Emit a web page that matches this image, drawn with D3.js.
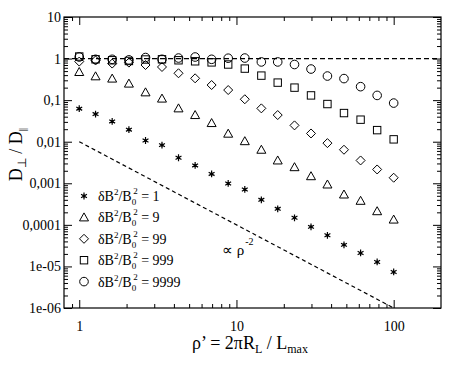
<!DOCTYPE html>
<html>
<head>
<meta charset="utf-8">
<script src="https://cdn.jsdelivr.net/npm/d3@7"></script>
<style>
  body { margin: 0; background: #fff; }
  svg { display: block; font-family: "Liberation Serif", "Times New Roman", serif; }
</style>
</head>
<body>
<div id="chart"></div>
<script>
// rho' values (same for every run)
const rho = [1, 1.27, 1.62, 2.07, 2.64, 3.36, 4.28, 5.46, 6.95, 8.86,
             11.3, 14.4, 18.3, 23.4, 29.8, 37.9, 48.3, 61.6, 78.5, 100];

// D_perp / D_par for each dB^2/B0^2
const run1 = [0.0624, 0.0462, 0.0308, 0.0195, 0.0107, 0.00828, 0.00411, 0.00269, 0.00168, 0.00099,
              0.00071, 0.0004, 0.000243, 0.000148, 0.0000895, 0.0000561, 0.000033, 0.0000211, 0.0000128, 0.00000736];
const run9 = [0.475, 0.374, 0.33, 0.25, 0.154, 0.109, 0.0634, 0.0438, 0.0281, 0.0156,
              0.0103, 0.00641, 0.00354, 0.00244, 0.00148, 0.000935, 0.000537, 0.000379, 0.000213, 0.000134];
const run99 = [0.847, 0.9, 0.758, 0.8, 0.7, 0.628, 0.443, 0.335, 0.231, 0.175,
               0.105, 0.0634, 0.0438, 0.0247, 0.0158, 0.00925, 0.00641, 0.00354, 0.00215, 0.00136];
const run999 = [1.12, 0.96, 0.91, 0.875, 0.95, 0.96, 0.91, 0.86, 0.81, 0.72,
                0.574, 0.389, 0.264, 0.2, 0.13, 0.0806, 0.0489, 0.0339, 0.019, 0.0114];
const run9999 = [1.09, 0.96, 0.96, 0.93, 1.06, 0.96, 1.03, 1.09, 0.96, 1.02,
                 1.03, 0.83, 0.83, 0.72, 0.56, 0.38, 0.33, 0.211, 0.13, 0.085];

const legendValues = ["1", "9", "99", "999", "9999"];
const xTicks = [1, 10, 100];
const yTicks = [1e-6, 1e-5, 1e-4, 1e-3, 1e-2, 1e-1, 1, 10];
const yTickLabels = ["1e-06", "1e-05", "0,0001", "0,001", "0,01", "0,1", "1", "10"];

// reference slope line  ~ rho^-2
const slopeX = [1, 100];
const slopeY = [0.01, 0.000001];

const width = 474;
const height = 366;
const margin = { top: 17, right: 33, bottom: 58, left: 64 };

const svg = d3.select('#chart')
  .append('svg')
  .attr('width', width)
  .attr('height', height);

const xScale = d3.scaleLog()
  .domain([0.8, 200])
  .range([margin.left, width - margin.right]);

const yScale = d3.scaleLog()
  .domain([1e-6, 10])
  .range([height - margin.bottom, margin.top]);

// minor ticks
const xMinor = [];
[0.1, 1, 10, 100].forEach(d => {
  for (let k = 2; k <= 9; k++) {
    const v = d * k;
    if (v > 0.8 && v < 200 && !xTicks.includes(v)) xMinor.push(v);
  }
});
const yMinor = [];
[1e-6, 1e-5, 1e-4, 1e-3, 1e-2, 1e-1, 1].forEach(d => {
  for (let k = 2; k <= 9; k++) yMinor.push(d * k);
});

const L = margin.left, R = width - margin.right;
const T = margin.top, B = height - margin.bottom;

function styleAxis(g) {
  g.select('.domain').remove();
  g.selectAll('line').attr('stroke', '#000').attr('stroke-width', 1);
}

// bottom
svg.append('g').attr('transform', `translate(0,${B})`)
  .call(d3.axisBottom(xScale).tickValues(xTicks).tickSize(-8).tickPadding(13).tickFormat(d3.format('d')))
  .call(styleAxis)
  .call(g => g.selectAll('text').attr('font-size', 14).attr('font-family', 'Liberation Serif').attr('fill', '#000'));
svg.append('g').attr('transform', `translate(0,${B})`)
  .call(d3.axisBottom(xScale).tickValues(xMinor).tickSize(-4).tickFormat(''))
  .call(styleAxis);
// top
svg.append('g').attr('transform', `translate(0,${T})`)
  .call(d3.axisTop(xScale).tickValues(xTicks).tickSize(-8).tickFormat(''))
  .call(styleAxis);
svg.append('g').attr('transform', `translate(0,${T})`)
  .call(d3.axisTop(xScale).tickValues(xMinor).tickSize(-4).tickFormat(''))
  .call(styleAxis);
// left
svg.append('g').attr('transform', `translate(${L},0)`)
  .call(d3.axisLeft(yScale).tickValues(yTicks).tickSize(-8).tickPadding(3)
    .tickFormat((d, i) => yTickLabels[i]))
  .call(styleAxis)
  .call(g => g.selectAll('text').attr('font-size', 14).attr('font-family', 'Liberation Serif').attr('fill', '#000'));
svg.append('g').attr('transform', `translate(${L},0)`)
  .call(d3.axisLeft(yScale).tickValues(yMinor).tickSize(-4).tickFormat(''))
  .call(styleAxis);
// right
svg.append('g').attr('transform', `translate(${R},0)`)
  .call(d3.axisRight(yScale).tickValues(yTicks).tickSize(-8).tickFormat(''))
  .call(styleAxis);
svg.append('g').attr('transform', `translate(${R},0)`)
  .call(d3.axisRight(yScale).tickValues(yMinor).tickSize(-4).tickFormat(''))
  .call(styleAxis);

// frame
svg.append('rect')
  .attr('x', L).attr('y', T)
  .attr('width', R - L).attr('height', B - T)
  .attr('fill', 'none').attr('stroke', '#000').attr('stroke-width', 1.2);

// dashed line at 1
svg.append('line')
  .attr('x1', L).attr('x2', R)
  .attr('y1', yScale(1)).attr('y2', yScale(1))
  .attr('stroke', '#000').attr('stroke-width', 1.2)
  .attr('stroke-dasharray', '5,3');

// slope line
svg.append('line')
  .attr('x1', xScale(slopeX[0])).attr('y1', yScale(slopeY[0]))
  .attr('x2', xScale(slopeX[1])).attr('y2', yScale(slopeY[1]))
  .attr('stroke', '#000').attr('stroke-width', 1.2)
  .attr('stroke-dasharray', '4,3');

// markers
const shapes = [
  { data: run1, type: 'star' },
  { data: run9, type: 'triangle' },
  { data: run99, type: 'diamond' },
  { data: run999, type: 'square' },
  { data: run9999, type: 'circle' }
];

function drawMarker(g, type) {
  if (type === 'star') {
    g.append('path')
      .attr('d', d3.symbol(d3.symbolAsterisk, 32)())
      .attr('stroke', '#000').attr('stroke-width', 1.2).attr('fill', 'none');
    g.append('circle').attr('r', 1.5).attr('fill', '#000');
  } else if (type === 'triangle') {
    g.append('path').attr('d', 'M0,-4.5L4.5,3.5L-4.5,3.5Z')
      .attr('fill', 'none').attr('stroke', '#000').attr('stroke-width', 1);
  } else if (type === 'diamond') {
    g.append('path').attr('d', 'M0,-4.5L4.5,0L0,4.5L-4.5,0Z')
      .attr('fill', 'none').attr('stroke', '#000').attr('stroke-width', 1);
  } else if (type === 'square') {
    g.append('rect').attr('x', -3.7).attr('y', -3.7).attr('width', 7.4).attr('height', 7.4)
      .attr('fill', 'none').attr('stroke', '#000').attr('stroke-width', 1);
  } else {
    g.append('circle').attr('r', 4.3)
      .attr('fill', 'none').attr('stroke', '#000').attr('stroke-width', 1);
  }
}

shapes.forEach(s => {
  const pts = svg.append('g').attr('class', 'series-' + s.type);
  s.data.forEach((v, i) => {
    const g = pts.append('g').attr('transform', `translate(${xScale(rho[i])},${yScale(v)})`);
    drawMarker(g, s.type);
  });
});

// legend
const legend = svg.append('g').attr('transform', 'translate(84,196)');
shapes.forEach((s, i) => {
  const row = legend.append('g').attr('transform', `translate(0,${i * 21.4})`);
  drawMarker(row.append('g'), s.type);
  const t = row.append('text').attr('x', 14).attr('y', 5).attr('font-size', 14).attr('fill', '#000');
  t.append('tspan').text('δB');
  t.append('tspan').attr('font-size', 9).attr('dy', -6).text('2');
  t.append('tspan').attr('dy', 6).text('/B');
  t.append('tspan').attr('font-size', 9).attr('dy', 4).text('0');
  t.append('tspan').attr('font-size', 9).attr('dx', -3).attr('dy', -11).text('2');
  t.append('tspan').attr('dy', 7).text(' = ' + legendValues[i]);
});

// annotation
const ann = svg.append('text').attr('x', 222).attr('y', 255).attr('font-size', 15).attr('fill', '#000');
ann.append('tspan').text('∝ ρ');
ann.append('tspan').attr('font-size', 10).attr('dy', -10).attr('dx', 1).text('-2');

// axis titles
const xt = svg.append('text').attr('x', 250).attr('y', 349).attr('text-anchor', 'middle')
  .attr('font-size', 18).attr('fill', '#000');
xt.append('tspan').text('ρ’ = 2πR');
xt.append('tspan').attr('font-size', 12).attr('dy', 4).text('L');
xt.append('tspan').attr('dy', -4).text(' / L');
xt.append('tspan').attr('font-size', 12).attr('dy', 4).text('max');

const yt = svg.append('text')
  .attr('transform', 'translate(22,155) rotate(-90)')
  .attr('text-anchor', 'middle')
  .attr('font-size', 18).attr('fill', '#000');
yt.append('tspan').text('D');
yt.append('tspan').attr('font-size', 12).attr('dy', 4).text('⊥');
yt.append('tspan').attr('dy', -4).text(' / D');
yt.append('tspan').attr('font-size', 11).attr('dy', 4).attr('letter-spacing', -1).text('||');
</script>
</body>
</html>
